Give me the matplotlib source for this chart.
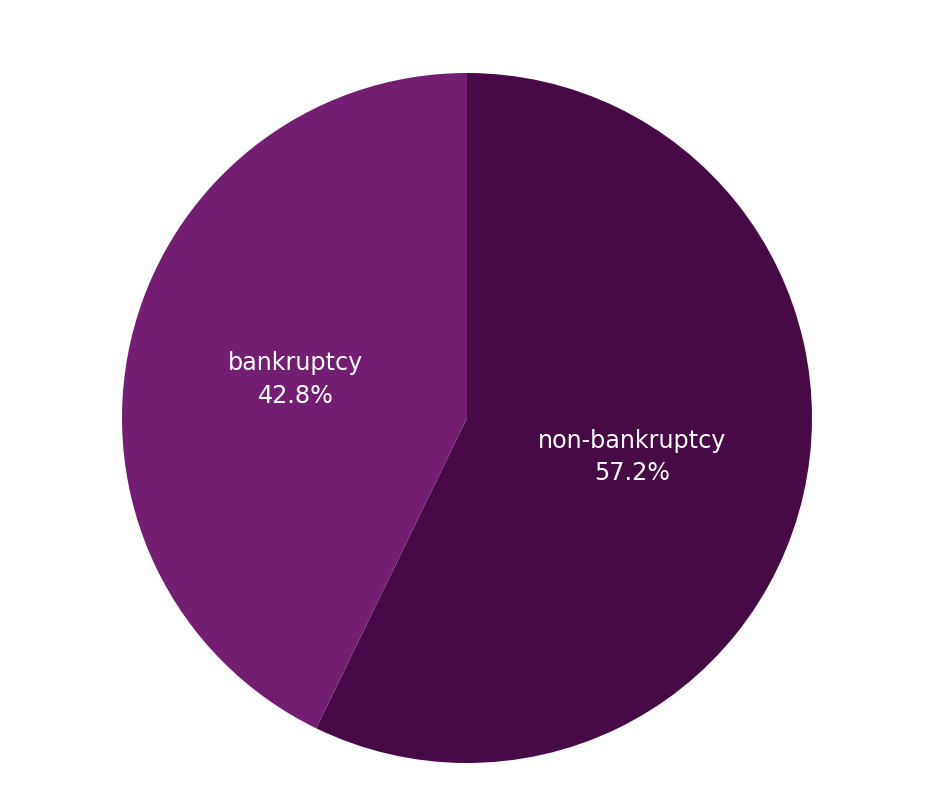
import matplotlib.pyplot as plt
import numpy as np

# slice data
labels = ["non-bankruptcy", "bankruptcy"]
shares = [57.2, 42.8]
colors = ["#470a47", "#741e73"]

fig = plt.figure(figsize=(9.3, 8.04), dpi=100)
ax = fig.add_axes([122 / 930, 40 / 804, 690 / 930, 690 / 804])

wedges, _ = ax.pie(shares, colors=colors, startangle=90, counterclock=False,
                   radius=1, wedgeprops=dict(linewidth=0))

# put the label + percent inside each slice
text_r = [0.49, 0.51]
for w, lab, val, r in zip(wedges, labels, shares, text_r):
    mid = np.deg2rad((w.theta1 + w.theta2) / 2)
    ax.text(r * np.cos(mid), r * np.sin(mid), f"{lab}\n{val:.1f}%",
            ha="center", va="center", color="white", fontsize=17.2,
            linespacing=1.43)

ax.set_xlim(-1, 1)
ax.set_ylim(-1, 1)
ax.set_aspect("equal")
ax.axis("off")

fig.savefig("out.png", dpi=100)
